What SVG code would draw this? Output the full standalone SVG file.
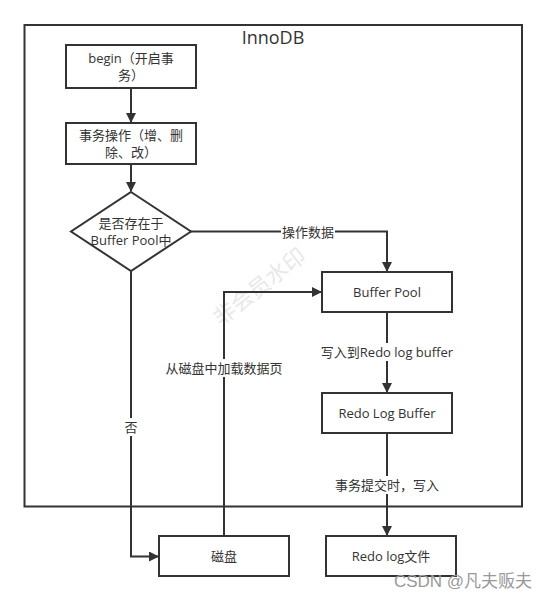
<svg xmlns="http://www.w3.org/2000/svg" width="547" height="601" viewBox="0 0 547 601">
<defs>
<style>
.box{fill:#fff;stroke:#333;stroke-width:2}
.ln{fill:none;stroke:#333;stroke-width:2}
.t{font-family:"Open Sans","Noto Sans CJK SC",sans-serif;font-size:13px;fill:#333;text-anchor:middle;dominant-baseline:central}
.lbl{font-family:"Open Sans","Noto Sans CJK SC",sans-serif;font-size:13px;fill:#333;text-anchor:middle;dominant-baseline:central}
.bg{fill:#fff}
</style>
<marker id="arr" markerWidth="10" markerHeight="10" refX="9" refY="5" orient="auto" markerUnits="userSpaceOnUse">
<path d="M0,0 L10,5 L0,10 Z" fill="#333"/>
</marker>
</defs>
<rect width="547" height="601" fill="#fff"/>
<g id="innodb">
<rect x="24.5" y="25" width="497.5" height="481.5" class="box"/>
<text x="273" y="37" class="t" style="font-size:18px">InnoDB</text>
</g>
<text x="258" y="285" transform="rotate(-38 258 285)" style="font-family:'Noto Sans CJK SC',sans-serif;font-size:22px;fill:#e8e8e8;text-anchor:middle;dominant-baseline:central">非会员水印</text>
<g id="connectors">
<path d="M131,88 V122" class="ln" marker-end="url(#arr)"/>
<path d="M131,164 V191" class="ln" marker-end="url(#arr)"/>
<path d="M191,231.5 H387 V271" class="ln" marker-end="url(#arr)"/>
<path d="M131,271 V556.5 H158" class="ln" marker-end="url(#arr)"/>
<path d="M224,536 V292 H321" class="ln" marker-end="url(#arr)"/>
<path d="M387,312 V392" class="ln" marker-end="url(#arr)"/>
<path d="M387,433 V535" class="ln" marker-end="url(#arr)"/>
<rect x="281" y="224" width="54" height="17" class="bg"/>
<text x="308" y="232" class="lbl">操作数据</text>
<rect x="123" y="418" width="16" height="18" class="bg"/>
<text x="131" y="427" class="lbl">否</text>
<rect x="164" y="359" width="120" height="18" class="bg"/>
<text x="224" y="367.5" class="lbl">从磁盘中加载数据页</text>
<rect x="317" y="343" width="140" height="18" class="bg"/>
<text x="387" y="352" class="lbl">写入到Redo log buffer</text>
<rect x="332" y="476" width="110" height="18" class="bg"/>
<text x="387" y="485" class="lbl">事务提交时，写入</text>
</g>
<g id="begin">
<rect x="66" y="45" width="130" height="43" class="box"/>
<text x="131" y="58" class="t">begin（开启事</text>
<text x="131" y="75" class="t">务）</text>
</g>
<g id="op">
<rect x="66" y="123" width="130" height="41" class="box"/>
<text x="131" y="135" class="t">事务操作（增、删</text>
<text x="131" y="152" class="t">除、改）</text>
</g>
<g id="decision">
<path d="M131,192 L191,231.5 L131,271 L71,231.5 Z" class="box"/>
<text x="131" y="223" class="t">是否存在于</text>
<text x="131" y="240" class="t">Buffer Pool中</text>
</g>
<g id="bufferpool">
<rect x="322" y="272" width="130" height="40" class="box"/>
<text x="387" y="292" class="t">Buffer Pool</text>
</g>
<g id="redologbuffer">
<rect x="322" y="393" width="130" height="40" class="box"/>
<text x="387" y="413" class="t">Redo Log Buffer</text>
</g>
<g id="disk">
<rect x="159" y="536" width="130" height="40" class="box"/>
<text x="224" y="556" class="t">磁盘</text>
</g>
<g id="redologfile">
<rect x="326" y="536" width="130" height="40" class="box"/>
<text x="391" y="556" class="t">Redo log文件</text>
</g>
<text x="463" y="581" style="font-family:'Liberation Sans','Noto Sans CJK SC',sans-serif;font-size:17px;fill:#999;text-anchor:middle;dominant-baseline:central">CSDN @凡夫贩夫</text>
</svg>
